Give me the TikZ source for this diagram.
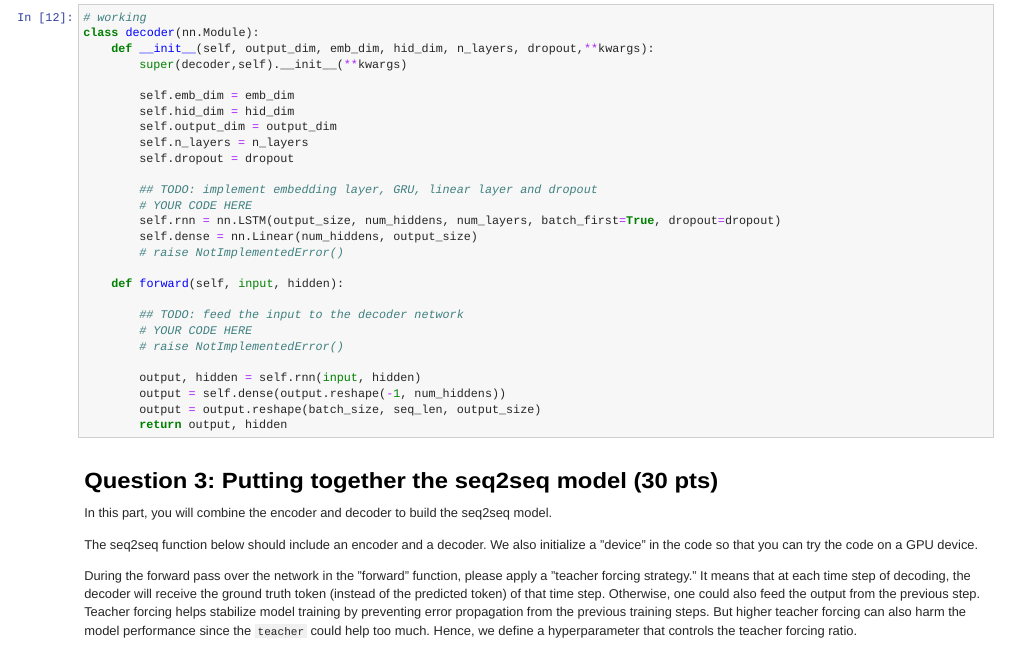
\documentclass[tikz,border=0pt]{standalone}
\usepackage{fontspec}
\usepackage{graphicx}
\setmainfont{Liberation Sans}
\newfontfamily\codefont{Liberation Mono}
\frenchspacing
\definecolor{cellbg}{HTML}{F7F7F7}
\definecolor{cellbd}{HTML}{CFCFCF}
\definecolor{prompt}{HTML}{303F9F}
\definecolor{kwc}{HTML}{008000}
\definecolor{cmc}{HTML}{408080}
\definecolor{opc}{HTML}{AA22FF}
\definecolor{fnc}{HTML}{0000FF}
\newcommand{\kw}[1]{\textcolor{kwc}{\bfseries #1}}
\newcommand{\bi}[1]{\textcolor{kwc}{#1}}
\newcommand{\cm}[1]{\textcolor{cmc}{\itshape #1}}
\newcommand{\op}[1]{\textcolor{opc}{#1}}
\newcommand{\fn}[1]{\textcolor{fnc}{#1}}
\newcommand{\fitw}[2]{\resizebox{#1}{\height}{#2}}
\begin{document}
\begin{tikzpicture}[x=0.75pt,y=-0.75pt,
  code/.style={anchor=base west,inner sep=0pt,text=black!85,font=\codefont\fontsize{8.82pt}{10pt}\selectfont},
  para/.style={anchor=base west,inner sep=0pt,font=\fontsize{9.6pt}{11pt}\selectfont,text=black!85},
  head/.style={anchor=base west,inner sep=0pt,font=\bfseries\fontsize{16.5pt}{19pt}\selectfont}]
\useasboundingbox[fill=white] (0,0) rectangle (1024,647);
\node[draw=cellbd,fill=cellbg,line width=0.75pt,anchor=north west,inner sep=0pt,minimum width=915*0.75pt,minimum height=433*0.75pt] (cell) at (78,4) {};
\node[code,text=prompt] (prompt) at (17,21) {In [12]:};
\def\lh{15.68}
\newcommand{\cl}[3]{\node[code] (l#1) at (#2,{21+#1*\lh}) {#3};}
\cl{0}{83}{\cm{\# working}}
\cl{1}{83}{\kw{class} \fn{decoder}(nn.Module):}
\cl{2}{111}{\kw{def} \fn{\_\_init\_\_}(self, output\_dim, emb\_dim, hid\_dim, n\_layers, dropout,\op{**}kwargs):}
\cl{3}{139}{\bi{super}(decoder,self).\_\_init\_\_(\op{**}kwargs)}
\cl{5}{139}{self.emb\_dim \op{=} emb\_dim}
\cl{6}{139}{self.hid\_dim \op{=} hid\_dim}
\cl{7}{139}{self.output\_dim \op{=} output\_dim}
\cl{8}{139}{self.n\_layers \op{=} n\_layers}
\cl{9}{139}{self.dropout \op{=} dropout}
\cl{11}{139}{\cm{\#\# TODO: implement embedding layer, GRU, linear layer and dropout}}
\cl{12}{139}{\cm{\# YOUR CODE HERE}}
\cl{13}{139}{self.rnn \op{=} nn.LSTM(output\_size, num\_hiddens, num\_layers, batch\_first\op{=}\kw{True}, dropout\op{=}dropout)}
\cl{14}{139}{self.dense \op{=} nn.Linear(num\_hiddens, output\_size)}
\cl{15}{139}{\cm{\# raise NotImplementedError()}}
\cl{17}{111}{\kw{def} \fn{forward}(self, \bi{input}, hidden):}
\cl{19}{139}{\cm{\#\# TODO: feed the input to the decoder network}}
\cl{20}{139}{\cm{\# YOUR CODE HERE}}
\cl{21}{139}{\cm{\# raise NotImplementedError()}}
\cl{23}{139}{output, hidden \op{=} self.rnn(\bi{input}, hidden)}
\cl{24}{139}{output \op{=} self.dense(output.reshape(\op{-}\bi{1}, num\_hiddens))}
\cl{25}{139}{output \op{=} output.reshape(batch\_size, seq\_len, output\_size)}
\cl{26}{139}{\kw{return} output, hidden}
\node[head] (h) at (84,488) {\fitw{475.5pt}{Question 3: Putting together the seq2seq model (30 pts)}};
\node[para] (p1) at (84,517) {\fitw{351pt}{In this part, you will combine the encoder and decoder to build the seq2seq model.}};
\node[para] (p2) at (84,549) {\fitw{670.5pt}{The seq2seq function below should include an encoder and a decoder. We also initialize a "device" in the code so that you can try the code on a GPU device.}};
\node[para] (p3) at (84,580) {\fitw{665pt}{During the forward pass over the network in the "forward" function, please apply a "teacher forcing strategy." It means that at each time step of decoding, the}};
\node[para] (p4) at (84,598) {\fitw{672pt}{decoder will receive the ground truth token (instead of the predicted token) of that time step. Otherwise, one could also feed the output from the previous step.}};
\node[para] (p5) at (84,616) {\fitw{661.5pt}{Teacher forcing helps stabilize model training by preventing error propagation from the previous training steps. But higher teacher forcing can also harm the}};
\node[para] (p6) at (84,635) {\fitw{579.75pt}{model performance since the {\setlength{\fboxsep}{2pt}\colorbox{black!6}{\codefont\fontsize{8.2pt}{9pt}\selectfont teacher}} could help too much. Hence, we define a hyperparameter that controls the teacher forcing ratio.}};
\end{tikzpicture}
\end{document}
